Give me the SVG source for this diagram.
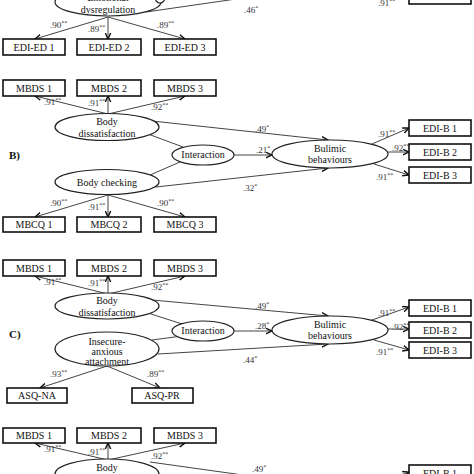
<svg xmlns="http://www.w3.org/2000/svg" width="474" height="474" viewBox="0 0 474 474">
<defs>
<marker id="ah" viewBox="0 0 10 10" refX="9" refY="5" markerWidth="7" markerHeight="7" orient="auto" markerUnits="userSpaceOnUse">
<path d="M0,1 L9,5 L0,9" fill="none" stroke="#111" stroke-width="2"/>
</marker>
<style>
.box{fill:#fff;stroke:#111;stroke-width:1.6}
.ell{fill:#fff;stroke:#222;stroke-width:1.2}
.t{font-family:"Liberation Serif","Times New Roman",serif;font-size:10px;fill:#111;text-anchor:middle}
.c{font-family:"Liberation Serif","Times New Roman",serif;font-size:9px;fill:#333}
.s{font-size:6px}
.lbl{font-family:"Liberation Serif","Times New Roman",serif;font-size:11px;font-weight:bold;fill:#111}
.ln{stroke:#444;stroke-width:1;fill:none}
.ar{stroke:#444;stroke-width:1;fill:none;marker-end:url(#ah)}
</style>
</defs>
<rect width="474" height="474" fill="#fff"/>

<g id="connectors">
<line class="ar" x1="108" y1="17" x2="35" y2="39"/>
<line class="ar" x1="108" y1="17" x2="108" y2="39"/>
<line class="ar" x1="108" y1="17" x2="185" y2="39"/>
<line class="ln" x1="146" y1="12" x2="250" y2="-3"/>
<line class="ar" x1="108" y1="114" x2="35" y2="96"/>
<line class="ar" x1="108" y1="114" x2="108" y2="96"/>
<line class="ar" x1="108" y1="114" x2="185" y2="96"/>
<line class="ln" x1="148" y1="134" x2="183" y2="147"/>
<line class="ln" x1="150" y1="175" x2="180" y2="162"/>
<line class="ar" x1="152" y1="121" x2="328" y2="140"/>
<line class="ar" x1="234" y1="155" x2="272" y2="155"/>
<line class="ar" x1="156" y1="187" x2="328" y2="168"/>
<line class="ar" x1="108" y1="195" x2="35" y2="217"/>
<line class="ar" x1="108" y1="195" x2="108" y2="217"/>
<line class="ar" x1="108" y1="195" x2="185" y2="217"/>
<line class="ar" x1="372" y1="144" x2="409" y2="128"/>
<line class="ar" x1="388" y1="152" x2="409" y2="152"/>
<line class="ar" x1="374" y1="164" x2="409" y2="175"/>
<line class="ar" x1="108" y1="294" x2="35" y2="276"/>
<line class="ar" x1="108" y1="294" x2="108" y2="276"/>
<line class="ar" x1="108" y1="294" x2="185" y2="276"/>
<line class="ln" x1="148" y1="313" x2="182" y2="324"/>
<line class="ln" x1="152" y1="340" x2="182" y2="336"/>
<line class="ar" x1="152" y1="300" x2="328" y2="316"/>
<line class="ar" x1="234" y1="331" x2="272" y2="331"/>
<line class="ar" x1="158" y1="354" x2="328" y2="344"/>
<line class="ar" x1="107" y1="366" x2="40" y2="388"/>
<line class="ar" x1="107" y1="366" x2="160" y2="388"/>
<line class="ar" x1="372" y1="320" x2="409" y2="307"/>
<line class="ar" x1="388" y1="329" x2="409" y2="329"/>
<line class="ar" x1="374" y1="340" x2="409" y2="350"/>
<line class="ar" x1="108" y1="460" x2="35" y2="443"/>
<line class="ar" x1="108" y1="460" x2="108" y2="443"/>
<line class="ar" x1="108" y1="460" x2="185" y2="443"/>
<line class="ln" x1="150" y1="462" x2="250" y2="476"/>
<line class="ar" x1="392" y1="478" x2="409" y2="472"/>
</g>

<g id="labels">
<text class="c" x="50" y="28">.90<tspan class="s" dy="-3">**</tspan></text>
<text class="c" x="88" y="32">.89<tspan class="s" dy="-3">**</tspan></text>
<text class="c" x="157" y="28">.89<tspan class="s" dy="-3">**</tspan></text>
<text class="c" x="244" y="13">.46<tspan class="s" dy="-3">*</tspan></text>
<text class="c" x="378" y="6">.91<tspan class="s" dy="-3">**</tspan></text>

<text class="c" x="44" y="105">.91<tspan class="s" dy="-3">**</tspan></text>
<text class="c" x="88" y="106">.91<tspan class="s" dy="-3">**</tspan></text>
<text class="c" x="151" y="110">.92<tspan class="s" dy="-3">**</tspan></text>
<text class="c" x="255" y="132">.49<tspan class="s" dy="-3">*</tspan></text>
<text class="c" x="256" y="153">.21<tspan class="s" dy="-3">*</tspan></text>
<text class="c" x="243" y="191">.32<tspan class="s" dy="-3">*</tspan></text>
<text class="c" x="50" y="206">.90<tspan class="s" dy="-3">**</tspan></text>
<text class="c" x="88" y="210">.91<tspan class="s" dy="-3">**</tspan></text>
<text class="c" x="157" y="206">.90<tspan class="s" dy="-3">**</tspan></text>
<text class="c" x="378" y="137">.91<tspan class="s" dy="-3">**</tspan></text>
<text class="c" x="392" y="151">.92<tspan class="s" dy="-3">**</tspan></text>
<text class="c" x="376" y="180">.91<tspan class="s" dy="-3">**</tspan></text>

<text class="c" x="44" y="285">.91<tspan class="s" dy="-3">**</tspan></text>
<text class="c" x="88" y="286">.91<tspan class="s" dy="-3">**</tspan></text>
<text class="c" x="151" y="290">.92<tspan class="s" dy="-3">**</tspan></text>
<text class="c" x="255" y="309">.49<tspan class="s" dy="-3">*</tspan></text>
<text class="c" x="255" y="329">.28<tspan class="s" dy="-3">*</tspan></text>
<text class="c" x="243" y="363">.44<tspan class="s" dy="-3">*</tspan></text>
<text class="c" x="50" y="377">.93<tspan class="s" dy="-3">**</tspan></text>
<text class="c" x="147" y="377">.89<tspan class="s" dy="-3">**</tspan></text>
<text class="c" x="378" y="316">.91<tspan class="s" dy="-3">**</tspan></text>
<text class="c" x="392" y="330">.92<tspan class="s" dy="-3">**</tspan></text>
<text class="c" x="376" y="355">.91<tspan class="s" dy="-3">**</tspan></text>

<text class="c" x="44" y="452">.91<tspan class="s" dy="-3">**</tspan></text>
<text class="c" x="88" y="455">.91<tspan class="s" dy="-3">**</tspan></text>
<text class="c" x="151" y="459">.92<tspan class="s" dy="-3">**</tspan></text>
<text class="c" x="252" y="472">.49<tspan class="s" dy="-3">*</tspan></text>

<text class="lbl" x="9" y="159">B)</text>
<text class="lbl" x="9" y="338">C)</text>
</g>

<g id="emotional-dysregulation">
<ellipse class="ell" cx="108" cy="2" rx="53" ry="14"/>
<text class="t" x="108" y="1">Emotional</text>
<text class="t" x="108" y="13">dysregulation</text>
</g>
<g id="emo-error"><ellipse class="ell" cx="160" cy="-3" rx="5" ry="6"/></g>
<g id="edi-ed1"><rect class="box" x="3" y="39" width="62" height="16"/><text class="t" x="34" y="51">EDI-ED 1</text></g>
<g id="edi-ed2"><rect class="box" x="77" y="39" width="64" height="16"/><text class="t" x="109" y="51">EDI-ED 2</text></g>
<g id="edi-ed3"><rect class="box" x="154" y="39" width="62" height="16"/><text class="t" x="185" y="51">EDI-ED 3</text></g>
<g id="a-edib"><rect class="box" x="409" y="-12" width="62" height="16"/></g>

<g id="b-mbds1"><rect class="box" x="3" y="80" width="62" height="16"/><text class="t" x="34" y="92">MBDS 1</text></g>
<g id="b-mbds2"><rect class="box" x="77" y="80" width="64" height="16"/><text class="t" x="109" y="92">MBDS 2</text></g>
<g id="b-mbds3"><rect class="box" x="154" y="80" width="62" height="16"/><text class="t" x="185" y="92">MBDS 3</text></g>
<g id="b-body-dissatisfaction">
<ellipse class="ell" cx="107" cy="127" rx="52" ry="13.5"/>
<text class="t" x="107" y="125">Body</text>
<text class="t" x="107" y="137">dissatisfaction</text>
</g>
<g id="b-interaction"><ellipse class="ell" cx="203" cy="155" rx="31" ry="10"/><text class="t" x="203" y="158">Interaction</text></g>
<g id="b-bulimic">
<ellipse class="ell" cx="330" cy="154" rx="58" ry="14"/>
<text class="t" x="330" y="152">Bulimic</text>
<text class="t" x="330" y="163">behaviours</text>
</g>
<g id="b-body-checking"><ellipse class="ell" cx="107" cy="182" rx="52" ry="12.5"/><text class="t" x="107" y="186">Body checking</text></g>
<g id="b-mbcq1"><rect class="box" x="3" y="217" width="62" height="15"/><text class="t" x="34" y="228">MBCQ 1</text></g>
<g id="b-mbcq2"><rect class="box" x="77" y="217" width="64" height="15"/><text class="t" x="109" y="228">MBCQ 2</text></g>
<g id="b-mbcq3"><rect class="box" x="154" y="217" width="62" height="15"/><text class="t" x="185" y="228">MBCQ 3</text></g>
<g id="b-edib1"><rect class="box" x="409" y="120" width="62" height="16"/><text class="t" x="440" y="132">EDI-B 1</text></g>
<g id="b-edib2"><rect class="box" x="409" y="144" width="62" height="16"/><text class="t" x="440" y="156">EDI-B  2</text></g>
<g id="b-edib3"><rect class="box" x="409" y="167" width="62" height="16"/><text class="t" x="440" y="179">EDI-B 3</text></g>

<g id="c-mbds1"><rect class="box" x="3" y="260" width="62" height="16"/><text class="t" x="34" y="272">MBDS 1</text></g>
<g id="c-mbds2"><rect class="box" x="77" y="260" width="64" height="16"/><text class="t" x="109" y="272">MBDS 2</text></g>
<g id="c-mbds3"><rect class="box" x="154" y="260" width="62" height="16"/><text class="t" x="185" y="272">MBDS 3</text></g>
<g id="c-body-dissatisfaction">
<ellipse class="ell" cx="107" cy="306" rx="52" ry="13"/>
<text class="t" x="107" y="304">Body</text>
<text class="t" x="107" y="316">dissatisfaction</text>
</g>
<g id="c-interaction"><ellipse class="ell" cx="203" cy="331" rx="31" ry="10"/><text class="t" x="203" y="334">Interaction</text></g>
<g id="c-bulimic">
<ellipse class="ell" cx="330" cy="330" rx="58" ry="14"/>
<text class="t" x="330" y="328">Bulimic</text>
<text class="t" x="330" y="339">behaviours</text>
</g>
<g id="c-insecure">
<ellipse class="ell" cx="107" cy="349" rx="52" ry="17"/>
<text class="t" x="107" y="345">Insecure-</text>
<text class="t" x="107" y="355">anxious</text>
<text class="t" x="107" y="365">attachment</text>
</g>
<g id="c-asqna"><rect class="box" x="7" y="388" width="60" height="15"/><text class="t" x="37" y="399">ASQ-NA</text></g>
<g id="c-asqpr"><rect class="box" x="132" y="388" width="61" height="15"/><text class="t" x="162" y="399">ASQ-PR</text></g>
<g id="c-edib1"><rect class="box" x="409" y="300" width="62" height="16"/><text class="t" x="440" y="312">EDI-B 1</text></g>
<g id="c-edib2"><rect class="box" x="409" y="322" width="62" height="16"/><text class="t" x="440" y="334">EDI-B 2</text></g>
<g id="c-edib3"><rect class="box" x="409" y="342" width="62" height="16"/><text class="t" x="440" y="354">EDI-B 3</text></g>

<g id="d-mbds1"><rect class="box" x="3" y="428" width="62" height="15"/><text class="t" x="34" y="439">MBDS 1</text></g>
<g id="d-mbds2"><rect class="box" x="77" y="428" width="64" height="15"/><text class="t" x="109" y="439">MBDS 2</text></g>
<g id="d-mbds3"><rect class="box" x="154" y="428" width="62" height="15"/><text class="t" x="185" y="439">MBDS 3</text></g>
<g id="d-body"><ellipse class="ell" cx="107" cy="474" rx="52" ry="15"/><text class="t" x="107" y="471">Body</text></g>
<g id="d-edib1"><rect class="box" x="409" y="465" width="62" height="16"/><text class="t" x="440" y="477">EDI-B 1</text></g>
</svg>
